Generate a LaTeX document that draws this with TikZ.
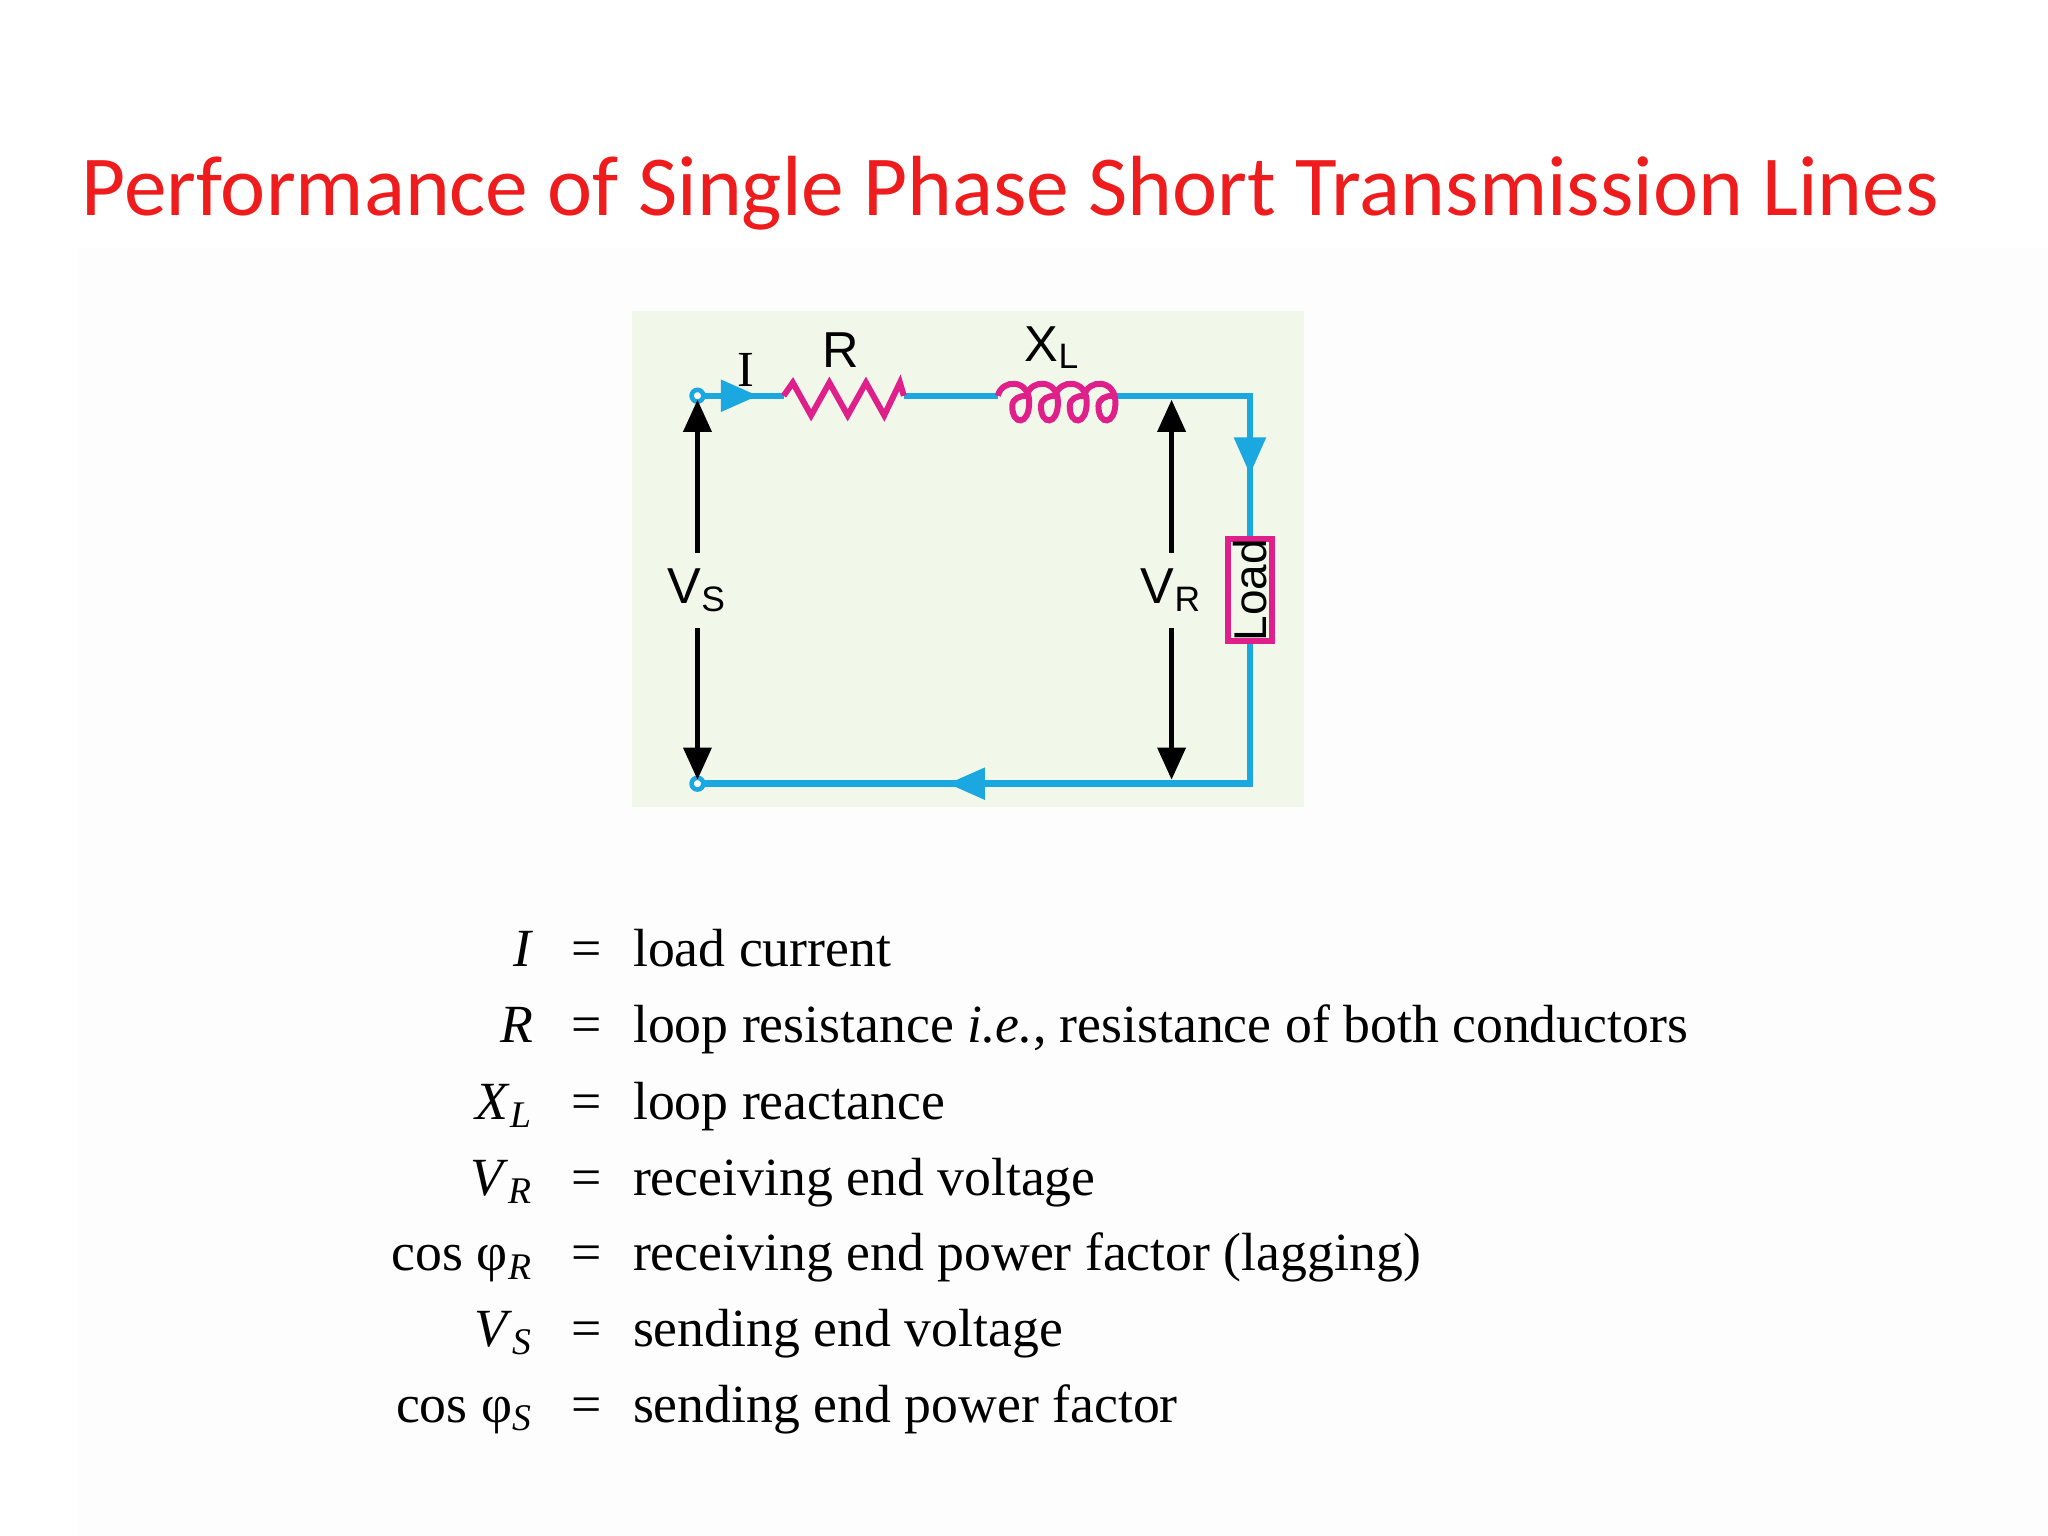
\documentclass[tikz,border=0pt]{standalone}
\usepackage{fontspec}
\setmainfont{Liberation Serif}
\setsansfont{Liberation Sans}
\newfontfamily\titlefont{Carlito}
\usetikzlibrary{arrows.meta}
\definecolor{wire}{HTML}{1BA8E0}
\definecolor{comp}{HTML}{E0208A}
\definecolor{panel}{HTML}{F1F7E9}
\definecolor{ttl}{HTML}{EE1C1C}
\tikzset{wireline/.style={wire,line width=1.4pt},
 compline/.style={comp,line width=1.3pt},
 volt/.style={black,line width=1.1pt,-{Triangle[length=7pt,width=6pt]}},
 warrow/.style={wire,-{Triangle[length=8pt,width=7pt]}},
 clab/.style={font=\sffamily\fontsize{11}{13}\selectfont},
 lg/.style={font=\fontsize{11.7}{13}\selectfont,inner sep=0pt}}
\begin{document}
\begin{tikzpicture}[x=0.01cm,y=-0.01cm]
\useasboundingbox (0,0) rectangle (1568,1176);
\fill[white] (0,0) rectangle (1568,1176);
\fill[black!0.8] (60,190) rectangle (1568,1176);
\node[anchor=base west,inner sep=0pt,text=ttl,font=\titlefont\fontsize{18.6}{22}\selectfont] (title) at (62,165) {Performance of Single Phase Short Transmission Lines};
\fill[panel] (484,238) rectangle (998,618);
\coordinate (A) at (534,303);
\coordinate (B) at (534,600);
\coordinate (r1) at (600,303);
\coordinate (r2) at (692,303);
\coordinate (l1) at (764,303);
\coordinate (l2) at (855,303);
\coordinate (TR) at (957,303);
\coordinate (BR) at (957,600);
\node[draw=comp,line width=1.3pt,fill=panel,inner sep=0pt,minimum height=0.33cm,minimum width=0.78cm,rotate=90,font=\sffamily\fontsize{10}{12}\selectfont] (load) at (957,452) {Load};
\draw[wireline] (A) -- (r1);
\draw[wireline] (r2) -- (l1);
\draw[wireline] (l2) -- (TR) -- (load.east);
\draw[wireline] (load.west) -- (BR) -- (B);
\draw[compline] (r1) -- (607,293) -- (621,318) -- (635,293) -- (649,318) -- (663,293) -- (677,318) -- (689,293) -- (r2);
\foreach \k in {0,1,2,3}{
 \pgfmathsetmacro{\xa}{764+22*\k}
 \draw[compline] (\xa,303) .. controls (\xa+3,290) and (\xa+24,290) .. (\xa+24,308)
   .. controls (\xa+24,326) and (\xa+11,326) .. (\xa+11,311)
   .. controls (\xa+11,305) and (\xa+17,303) .. (\xa+22,303);
}
\draw[compline] (852,303) -- (l2);
\draw[warrow] (555,303) -- (580,303);
\draw[warrow] (957,340) -- (957,363);
\draw[warrow] (750,600) -- (726,600);
\draw[wire,fill=white,line width=1pt] (A) circle (4.5);
\draw[wire,fill=white,line width=1pt] (B) circle (4.5);
\node[clab] (vs) at (534,452) {V\textsubscript{S}};
\node[clab] (vr) at (897,452) {V\textsubscript{R}};
\draw[volt] (vs.north) -- (534,306);
\draw[volt] (vs.south) -- (534,597);
\draw[volt] (vr.north) -- (897,306);
\draw[volt] (vr.south) -- (897,597);
\node[font=\fontsize{11}{13}\selectfont] (ilab) at (571,283) {I};
\node[clab] (rlab) at (644,268) {R};
\node[clab] (xlab) at (806,266) {X\textsubscript{L}};
\foreach \y/\s/\t [count=\i] in {
 728/\textit{I}/load current,
 786/\textit{R}/{loop resistance \textit{i.e.}, resistance of both conductors},
 845/{\textit{X}\textsubscript{\textit{L}}}/loop reactance,
 903/{\textit{V}\textsubscript{\textit{R}}}/receiving end voltage,
 961/{cos φ\textsubscript{\textit{R}}}/receiving end power factor (lagging),
 1019/{\textit{V}\textsubscript{\textit{S}}}/sending end voltage,
 1077/{cos φ\textsubscript{\textit{S}}}/sending end power factor}{
 \node[lg,anchor=base east] (s\i) at (409,\y+12) {\s};
 \node[lg,anchor=base] (e\i) at (449,\y+12) {=};
 \node[lg,anchor=base west] (t\i) at (484,\y+12) {\t};
}
\end{tikzpicture}
\end{document}
